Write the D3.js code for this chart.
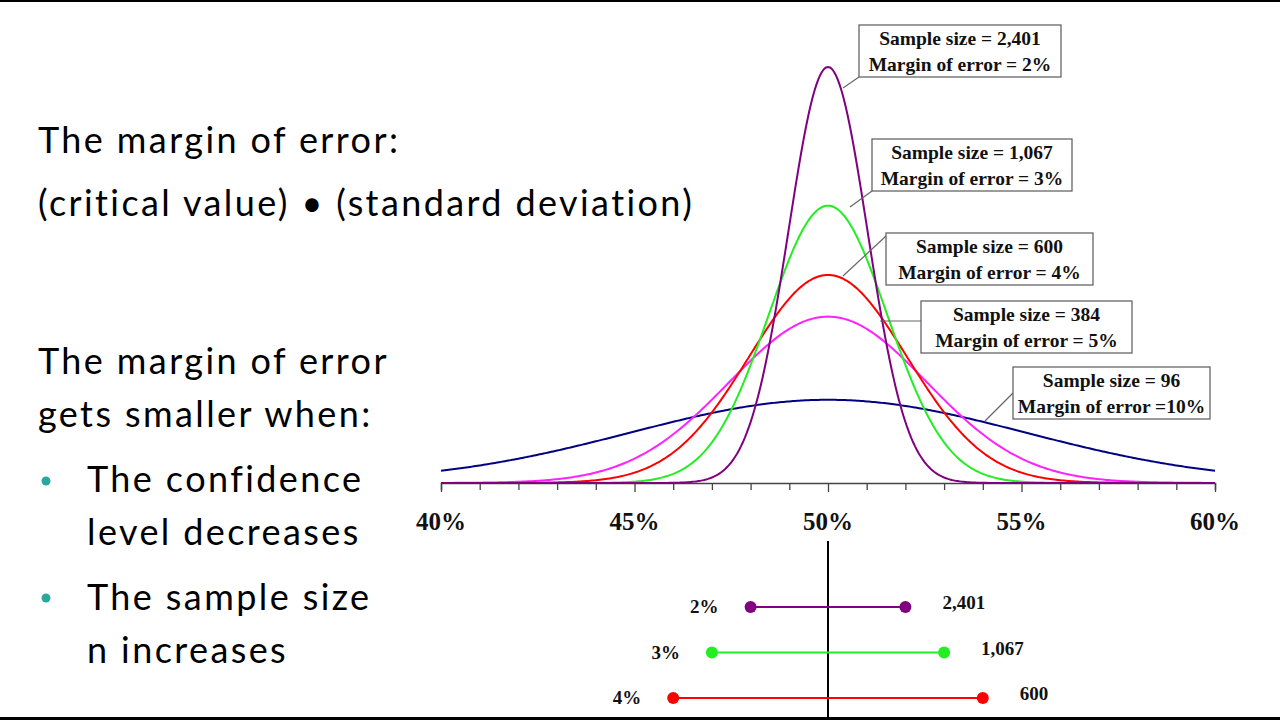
<!DOCTYPE html>
<html>
<head>
<meta charset="utf-8">
<script src="https://cdn.jsdelivr.net/npm/d3@7"></script>
<style>
  body { margin: 0; background: #fff; }
  svg { display: block; }
  .slide-text { font-family: Lato, "Open Sans", sans-serif; fill: #000; letter-spacing: 2.4px; }
  .serif { font-family: "Liberation Serif", "Times New Roman", serif; font-weight: bold; fill: #111; }
</style>
</head>
<body>
<svg id="chart" width="1280" height="720"></svg>
<script>
// margins of error (%) and the matching sample sizes
const margins = [2, 3, 4, 5, 10];
const sampleSizes = ["2,401", "1,067", "600", "384", "96"];
const curveColors = ["#800080", "#22ee22", "#ff0000", "#ff22ff", "#000080"];

// x-axis tick labels
const xLabels = [40, 45, 50, 55, 60];

// callout boxes: [left, top, leader x1, y1, x2, y2]
const callouts = [
  [859, 25, 859, 77, 843, 88],
  [872, 139, 872, 191, 850, 207],
  [886, 233, 886, 236, 843, 276],
  [921, 301, 921, 321, 880, 321],
  [1013, 367, 1013, 393, 985, 421]
];
const boxWidths = [202, 200, 207, 211, 197];

// dumbbells under the axis (first three margins)
const intervalRows = [0, 1, 2];

const svg = d3.select("#chart");

// slide border lines
svg.append("rect").attr("x", 0).attr("y", 0).attr("width", 1280).attr("height", 2).attr("fill", "#000");
svg.append("rect").attr("x", 0).attr("y", 717).attr("width", 1280).attr("height", 3).attr("fill", "#000");

// ---- left slide text ----
const textLines = [
  { t: "The margin of error:", x: 38, y: 153 },
  { t: "(critical value) \u2022 (standard deviation)", x: 38, y: 216 },
  { t: "The margin of error", x: 38, y: 374 },
  { t: "gets smaller when:", x: 38, y: 427 },
  { t: "The confidence", x: 87, y: 492 },
  { t: "level decreases", x: 87, y: 545 },
  { t: "The sample size", x: 87, y: 610 },
  { t: "n increases", x: 87, y: 663 }
];
svg.selectAll("text.slide-text")
  .data(textLines)
  .join("text")
  .attr("class", "slide-text")
  .attr("x", d => d.x)
  .attr("y", d => d.y)
  .attr("font-size", 36)
  .text(d => d.t);

svg.selectAll("circle.bullet")
  .data([481, 598])
  .join("circle")
  .attr("class", "bullet")
  .attr("cx", 46)
  .attr("cy", d => d)
  .attr("r", 4.5)
  .attr("fill", "#2aa8a0");

// ---- curves ----
const x = d3.scaleLinear().domain([40, 60]).range([441, 1215]);
const baseY = 483;

function density(p, moe) {
  const sd = moe / 1.96;
  return Math.exp(-0.5 * ((p - 50) / sd) ** 2) / (sd * Math.sqrt(2 * Math.PI));
}
const y = d3.scaleLinear().domain([0, density(50, 2)]).range([baseY, 67]);

const pts = d3.range(40, 60.0001, 0.05);
const line = d3.line().x(d => x(d[0])).y(d => y(d[1]));

// axis
const axis = d3.axisBottom(x)
  .tickValues(d3.range(40, 61, 1))
  .tickSize(7)
  .tickFormat("");
const axG = svg.append("g").attr("transform", `translate(0,${baseY})`).call(axis);
axG.select(".domain").attr("stroke", "#444").attr("stroke-width", 1.5);
axG.selectAll(".tick line").attr("stroke", "#444").attr("stroke-width", 1.3)
  .attr("y2", d => d % 5 === 0 ? 9 : 7);

// draw widest first so narrow curves sit on top
const order = [4, 3, 2, 1, 0];
svg.append("g").selectAll("path")
  .data(order)
  .join("path")
  .attr("d", i => line(pts.map(p => [p, density(p, margins[i])])))
  .attr("fill", "none")
  .attr("stroke", i => curveColors[i])
  .attr("stroke-width", 2);

svg.selectAll("text.xlab")
  .data(xLabels)
  .join("text")
  .attr("class", "xlab serif")
  .attr("x", d => x(d))
  .attr("y", 530)
  .attr("text-anchor", "middle")
  .attr("font-size", 25)
  .text(d => d + "%");

// ---- callouts ----
const cg = svg.append("g").selectAll("g")
  .data(callouts)
  .join("g");
cg.append("line")
  .attr("x1", d => d[2]).attr("y1", d => d[3])
  .attr("x2", d => d[4]).attr("y2", d => d[5])
  .attr("stroke", "#666").attr("stroke-width", 1.2);
cg.append("rect")
  .attr("x", d => d[0]).attr("y", d => d[1])
  .attr("width", (d, i) => boxWidths[i]).attr("height", 52)
  .attr("fill", "#fff").attr("stroke", "#666").attr("stroke-width", 1.3);
cg.append("text")
  .attr("class", "serif")
  .attr("x", (d, i) => d[0] + boxWidths[i] / 2)
  .attr("y", d => d[1] + 20)
  .attr("text-anchor", "middle")
  .attr("font-size", 19.5)
  .text((d, i) => "Sample size = " + sampleSizes[i]);
cg.append("text")
  .attr("class", "serif")
  .attr("x", (d, i) => d[0] + boxWidths[i] / 2)
  .attr("y", d => d[1] + 46)
  .attr("text-anchor", "middle")
  .attr("font-size", 19.5)
  .text((d, i) => "Margin of error " + (margins[i] === 10 ? "=" : "= ") + margins[i] + "%");

// ---- intervals below ----
svg.append("line")
  .attr("x1", x(50)).attr("x2", x(50))
  .attr("y1", 541).attr("y2", 720)
  .attr("stroke", "#000").attr("stroke-width", 2);

const rowY = d3.scalePoint().domain(intervalRows).range([607, 698]);
const rg = svg.append("g").selectAll("g")
  .data(intervalRows)
  .join("g");
rg.append("line")
  .attr("x1", i => x(50 - margins[i])).attr("x2", i => x(50 + margins[i]))
  .attr("y1", i => rowY(i)).attr("y2", i => rowY(i))
  .attr("stroke", i => curveColors[i]).attr("stroke-width", 2);
rg.selectAll("circle")
  .data(i => [[i, -1], [i, 1]])
  .join("circle")
  .attr("cx", d => x(50 + d[1] * margins[d[0]]))
  .attr("cy", d => rowY(d[0]))
  .attr("r", 6)
  .attr("fill", d => curveColors[d[0]]);
rg.append("text")
  .attr("class", "serif")
  .attr("x", i => x(50 - margins[i]) - 32)
  .attr("y", i => rowY(i) + 6)
  .attr("text-anchor", "end")
  .attr("font-size", 19)
  .text(i => margins[i] + "%");
rg.append("text")
  .attr("class", "serif")
  .attr("x", i => x(50 + margins[i]) + 37)
  .attr("y", i => rowY(i) + 2)
  .attr("font-size", 19)
  .text(i => sampleSizes[i]);
</script>
</body>
</html>
